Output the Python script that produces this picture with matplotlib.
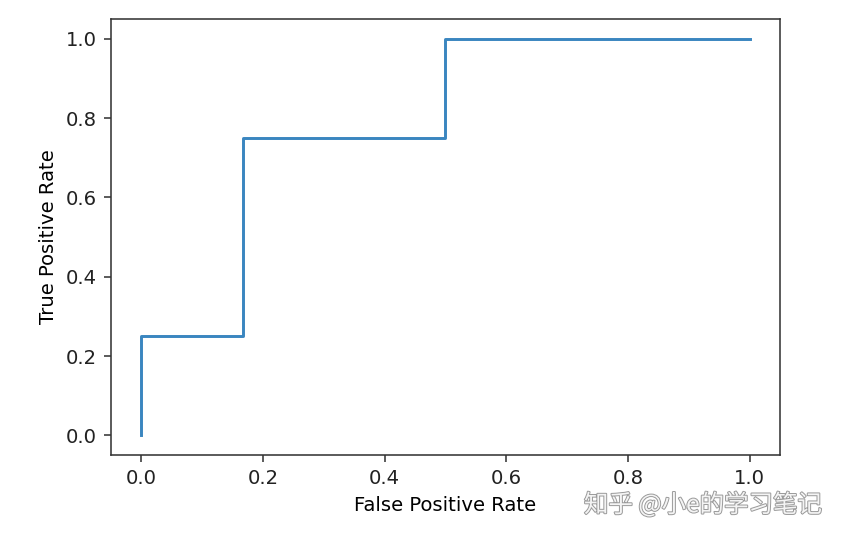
import matplotlib
matplotlib.use('Agg')
from matplotlib import pyplot as plt
import matplotlib.patheffects as pe

# ROC curve points
fpr = [0.0, 0.0, 1 / 6, 1 / 6, 0.5, 0.5, 1.0]
tpr = [0.0, 0.25, 0.25, 0.75, 0.75, 1.0, 1.0]


def main():
    fig = plt.figure(figsize=(6.0, 3.816), dpi=141)
    ax = fig.add_axes([0.131, 0.154, 0.791, 0.811])
    ax.plot(fpr, tpr, color='#3a86c0', lw=1.5)
    ax.set_xlabel('False Positive Rate')
    ax.set_ylabel('True Positive Rate')
    ax.set_xticks([0.0, 0.2, 0.4, 0.6, 0.8, 1.0])
    ax.set_yticks([0.0, 0.2, 0.4, 0.6, 0.8, 1.0])
    for s in ax.spines.values():
        s.set_color('#333333')
    ax.tick_params(colors='#333333', labelcolor='#222222')

    fig.text(0.831, 0.061, '知乎 @小e的学习笔记', ha='center', va='center',
             fontsize=12.5, color='#f4f4f4',
             family=['Noto Sans CJK SC', 'DejaVu Sans'],
             path_effects=[pe.withStroke(linewidth=1.0, foreground='#9a9a9a')])

    fig.savefig('out.png')


if __name__ == '__main__':
    main()
